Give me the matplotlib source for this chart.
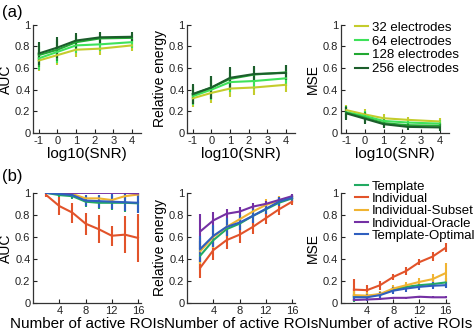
import numpy as np
import matplotlib.pyplot as plt

plt.rcParams['font.family'] = ['Liberation Sans', 'DejaVu Sans']

# ------------------ DATA ------------------
snr = [-1, 0, 1, 2.3, 4]
electrode_labels = ['32 electrodes', '64 electrodes', '128 electrodes', '256 electrodes']
electrode_colors = ['#c4cc2c', '#3ee25a', '#22a832', '#1c5e2c']

auc_snr = [
    [0.67, 0.72, 0.77, 0.78, 0.81],
    [0.69, 0.75, 0.81, 0.82, 0.84],
    [0.72, 0.77, 0.84, 0.875, 0.88],
    [0.735, 0.79, 0.855, 0.885, 0.89],
]
auc_snr_err = [
    [0.10, 0.09, 0.07, 0.06, 0.05],
    [0.11, 0.10, 0.07, 0.06, 0.05],
    [0.11, 0.10, 0.07, 0.05, 0.04],
    [0.11, 0.10, 0.07, 0.05, 0.04],
]
energy_snr = [
    [0.32, 0.37, 0.41, 0.42, 0.445],
    [0.34, 0.40, 0.47, 0.48, 0.505],
    [0.355, 0.42, 0.50, 0.54, 0.56],
    [0.36, 0.42, 0.51, 0.545, 0.555],
]
energy_snr_err = [
    [0.08, 0.09, 0.08, 0.07, 0.07],
    [0.08, 0.10, 0.09, 0.07, 0.07],
    [0.09, 0.11, 0.10, 0.07, 0.07],
    [0.09, 0.11, 0.10, 0.07, 0.07],
]
mse_snr = [
    [0.21, 0.17, 0.135, 0.12, 0.105],
    [0.19, 0.155, 0.11, 0.095, 0.085],
    [0.185, 0.14, 0.09, 0.07, 0.065],
    [0.18, 0.13, 0.08, 0.055, 0.05],
]
mse_snr_err = [
    [0.05, 0.05, 0.04, 0.03, 0.03],
    [0.05, 0.05, 0.04, 0.03, 0.03],
    [0.06, 0.05, 0.04, 0.03, 0.03],
    [0.06, 0.05, 0.04, 0.03, 0.03],
]

rois = [2, 4, 6, 8, 10, 12, 14, 16]
method_labels = ['Template', 'Individual', 'Individual-Subset', 'Individual-Oracle', 'Template-Optimal']
method_colors = ['#22aa62', '#e2532a', '#f0b432', '#7430a4', '#2f5fbf']

auc_roi = [
    [1.0, 0.98, 0.97, 0.92, 0.91, 0.91, 0.91, 0.905],
    [0.98, 0.88, 0.82, 0.72, 0.67, 0.61, 0.62, 0.59],
    [1.0, 1.0, 0.99, 0.95, 0.95, 0.935, 0.97, 0.985],
    [1.0, 1.0, 1.0, 1.0, 1.0, 1.0, 1.0, 0.995],
    [1.0, 0.99, 0.98, 0.93, 0.925, 0.92, 0.915, 0.91],
]
auc_roi_err = [
    [0.01, 0.02, 0.03, 0.05, 0.06, 0.07, 0.08, 0.09],
    [0.02, 0.08, 0.09, 0.10, 0.13, 0.09, 0.17, 0.22],
    [0.01, 0.01, 0.02, 0.03, 0.03, 0.04, 0.03, 0.02],
    [0.0, 0.0, 0.0, 0.0, 0.0, 0.0, 0.0, 0.01],
    [0.01, 0.02, 0.03, 0.05, 0.06, 0.07, 0.08, 0.09],
]
energy_roi = [
    [0.43, 0.57, 0.67, 0.72, 0.79, 0.85, 0.91, 0.95],
    [0.32, 0.48, 0.57, 0.62, 0.69, 0.77, 0.85, 0.92],
    [0.47, 0.60, 0.69, 0.76, 0.83, 0.89, 0.93, 0.96],
    [0.65, 0.75, 0.81, 0.83, 0.875, 0.90, 0.935, 0.97],
    [0.49, 0.61, 0.69, 0.73, 0.79, 0.855, 0.92, 0.955],
]
energy_roi_err = [
    [0.13, 0.10, 0.08, 0.08, 0.07, 0.05, 0.04, 0.03],
    [0.09, 0.09, 0.08, 0.08, 0.06, 0.05, 0.05, 0.03],
    [0.12, 0.10, 0.08, 0.07, 0.06, 0.05, 0.04, 0.03],
    [0.16, 0.08, 0.04, 0.04, 0.03, 0.03, 0.03, 0.02],
    [0.12, 0.10, 0.08, 0.07, 0.06, 0.05, 0.04, 0.03],
]
mse_roi = [
    [0.06, 0.06, 0.075, 0.12, 0.145, 0.16, 0.17, 0.185],
    [0.12, 0.115, 0.16, 0.235, 0.29, 0.37, 0.42, 0.50],
    [0.07, 0.065, 0.08, 0.13, 0.16, 0.19, 0.215, 0.27],
    [0.025, 0.03, 0.035, 0.045, 0.045, 0.055, 0.05, 0.05],
    [0.05, 0.05, 0.07, 0.11, 0.13, 0.145, 0.155, 0.16],
]
mse_roi_err = [
    [0.05, 0.03, 0.03, 0.03, 0.03, 0.04, 0.04, 0.04],
    [0.10, 0.05, 0.04, 0.03, 0.04, 0.03, 0.04, 0.04],
    [0.04, 0.03, 0.03, 0.03, 0.03, 0.04, 0.05, 0.09],
    [0.01, 0.01, 0.01, 0.01, 0.01, 0.01, 0.01, 0.01],
    [0.03, 0.03, 0.03, 0.03, 0.03, 0.03, 0.03, 0.03],
]
# ------------------------------------------


def style_axes(ax, xticks, xlim):
    ax.set_ylim(0, 1)
    ax.set_xlim(*xlim)
    ax.set_yticks([0, 0.2, 0.4, 0.6, 0.8, 1])
    ax.set_yticklabels(['0', '0.2', '0.4', '0.6', '0.8', '1'])
    ax.set_xticks(xticks)
    ax.set_xticklabels([str(t) for t in xticks])
    for s in ['top', 'right']:
        ax.spines[s].set_visible(False)
    for s in ['left', 'bottom']:
        ax.spines[s].set_color('#333333')
        ax.spines[s].set_linewidth(0.9)
    ax.tick_params(direction='in', length=3, width=0.8, labelsize=8, pad=2,
                   colors='#222222')


def draw_panel(ax, x, ys, errs, colors, labels):
    handles = []
    for y, e, c, lab in zip(ys, errs, colors, labels):
        cont = ax.errorbar(x, y, yerr=e, color=c, lw=1.5, elinewidth=1.5, capsize=0, label=lab)
        handles.append(cont[0])
    return handles


fig = plt.figure(figsize=(4.74, 3.32), dpi=100)
lefts = [0.070, 0.395, 0.719]
w = 0.228
top_row = [fig.add_axes([l, 0.600, w, 0.325]) for l in lefts]
bot_row = [fig.add_axes([l, 0.088, w, 0.331]) for l in lefts]

ylabels = ['AUC', 'Relative energy', 'MSE']

for ax, ys, es, yl in zip(top_row, [auc_snr, energy_snr, mse_snr],
                          [auc_snr_err, energy_snr_err, mse_snr_err], ylabels):
    top_handles = draw_panel(ax, snr, ys, es, electrode_colors, electrode_labels)
    style_axes(ax, [-1, 0, 1, 2, 3, 4], (-1.3, 4.5))
    ax.set_xlabel('log10(SNR)', fontsize=11, labelpad=1)
    ax.set_ylabel(yl, fontsize=10)
    ax.yaxis.set_label_coords(-0.19, 0.5)

for ax, ys, es, yl in zip(bot_row, [auc_roi, energy_roi, mse_roi],
                          [auc_roi_err, energy_roi_err, mse_roi_err], ylabels):
    bot_handles = draw_panel(ax, rois, ys, es, method_colors, method_labels)
    style_axes(ax, [4, 8, 12, 16], (0, 16.5))
    ax.set_xlabel('Number of active ROIs', fontsize=11, labelpad=1)
    ax.set_ylabel(yl, fontsize=10)
    ax.yaxis.set_label_coords(-0.19, 0.5)

top_row[2].legend(top_handles, electrode_labels, loc='upper left',
                  bbox_to_anchor=(0.08, 1.08), frameon=False,
                  fontsize=9.5, handlelength=1.0, handletextpad=0.3,
                  labelspacing=0.12, borderaxespad=0)
bot_row[2].legend(bot_handles, method_labels, loc='upper left',
                  bbox_to_anchor=(0.08, 1.16), frameon=False,
                  fontsize=9.5, handlelength=1.0, handletextpad=0.3,
                  labelspacing=0.0, borderaxespad=0)

fig.text(0.005, 0.985, '(a)', fontsize=12, va='top')
fig.text(0.005, 0.49, '(b)', fontsize=12, va='top')

fig.savefig('out.png', dpi=100)
